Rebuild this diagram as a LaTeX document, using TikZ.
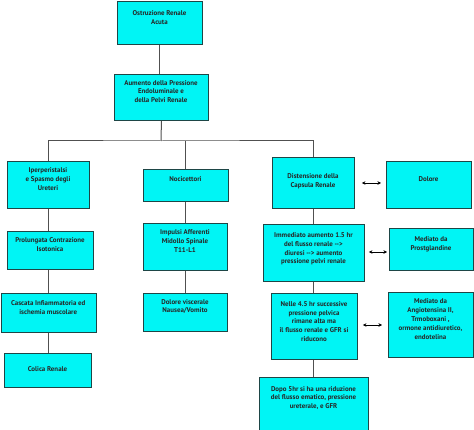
\documentclass[tikz,border=0pt]{standalone}
\usepackage{fontspec}
\setmainfont{PT Sans}
\usetikzlibrary{arrows.meta,calc}
\definecolor{boxfill}{RGB}{0,245,245}
\definecolor{boxline}{RGB}{30,70,70}
\definecolor{conline}{RGB}{80,80,80}
\tikzset{
  box/.style={draw=boxline, line width=0.9pt, fill=boxfill, anchor=north west, inner sep=0pt},
  txt/.style={align=center, font=\fontsize{6.9}{8.8}\selectfont\bfseries, text=black!85, inner sep=0pt},
  con/.style={draw=conline, line width=1pt},
  dbl/.style={draw=black, line width=0.8pt, {Stealth[length=3.5pt,width=3.5pt]}-{Stealth[length=3.5pt,width=3.5pt]}}
}
% \bx{name}{x1}{y1}{x2}{y2}{text-center-y}{text}
\newcommand{\bx}[7]{%
  \node[box, minimum width={(#4-#2)*1pt}, minimum height={(#5-#3)*1pt}] (#1) at (#2pt,-#3pt) {};
  \node[txt] (#1-t) at ({(#2+#4)/2*1pt},-#6pt) {#7};
}
\begin{document}
\begin{tikzpicture}
\useasboundingbox (0,0) rectangle (474pt,-430pt);
\bx{ostr}{117}{1}{202}{44}{17.5}{Ostruzione Renale\\Acuta}
\bx{aum}{114}{74}{208}{120}{91.5}{Aumento della Pressione\\Endoluminale e\\della Pelvi Renale}
\bx{iper}{7}{161}{89}{208}{179}{Iperperistalsi\\e Spasmo degli\\Ureteri}
\bx{noci}{143}{169}{228}{201}{179}{Nocicettori}
\bx{dist}{272}{157}{354}{208}{181}{Distensione della\\Capsula Renale}
\bx{dol}{386}{161}{471}{208}{179}{Dolore}
\bx{prol}{7}{231}{93}{269}{244.5}{Prolungata Contrazione\\Isotonica}
\bx{imp}{143}{223}{227}{270}{241}{Impulsi Afferenti\\Midollo Spinale\\T11-L1}
\bx{imm}{263}{224}{364}{281}{249}{Immediato aumento 1.5 hr\\del flusso renale -{}-{}> \\diuresi -{}-{}> aumento\\pressione pelvi renale}
\bx{medp}{389}{228}{473}{270}{244.5}{Mediato da\\Prostglandine}
\bx{casc}{0.5}{293}{96}{332}{307.5}{Cascata Infiammatoria ed\\ischemia muscolare}
\bx{dolv}{143}{293}{227}{331}{306.5}{Dolore viscerale\\Nausea/Vomito}
\bx{nel}{271}{293}{357}{359}{321.5}{Nelle 4.5 hr successive\\pressione pelvica\\rimane alta ma\\il flusso renale e GFR si\\riducono}
\bx{meda}{388}{292}{473}{357}{319}{Mediato da\\Angiotensina II,\\Trmoboxani ,\\ormone antidiuretico,\\endotelina}
\bx{col}{4}{353}{91}{387}{369}{Colica Renale}
\bx{dopo}{259}{377}{368}{440}{398}{Dopo 5hr si ha una riduzione\\del flusso ematico, pressione\\ureterale, e GFR}
% connectors
\coordinate (bus) at (161pt,-141pt);
\draw[con] (ostr.south) -- (ostr.south |- aum.north);
\draw[con] (aum.south) -- (bus);
\draw[con] (iper.north) |- (bus) -| (dist.north);
\draw[con] (noci.north) -- (noci.north |- bus);
\draw[con] (iper.south) -- (iper.south |- prol.north);
\draw[con] (iper.south |- prol.south) -- (iper.south |- casc.north);
\draw[con] (iper.south |- casc.south) -- (iper.south |- col.north);
\draw[con] (noci.south) -- (noci.south |- imp.north);
\draw[con] (noci.south |- imp.south) -- (noci.south |- dolv.north);
\draw[con] (dist.south) -- (dist.south |- imm.north);
\draw[con] (dist.south |- imm.south) -- (dist.south |- nel.north);
\draw[con] (dist.south |- nel.south) -- (dist.south |- dopo.north);
% double arrows
\draw[dbl, shorten <=7pt, shorten >=5pt] (dist.east |- 0,-183pt) -- (dol.west |- 0,-183pt);
\draw[dbl, shorten <=4pt, shorten >=2pt] (imm.east |- 0,-252pt) -- (medp.west |- 0,-252pt);
\draw[dbl, shorten <=5pt, shorten >=6pt] (nel.east |- 0,-325pt) -- (meda.west |- 0,-325pt);
\end{tikzpicture}
\end{document}
